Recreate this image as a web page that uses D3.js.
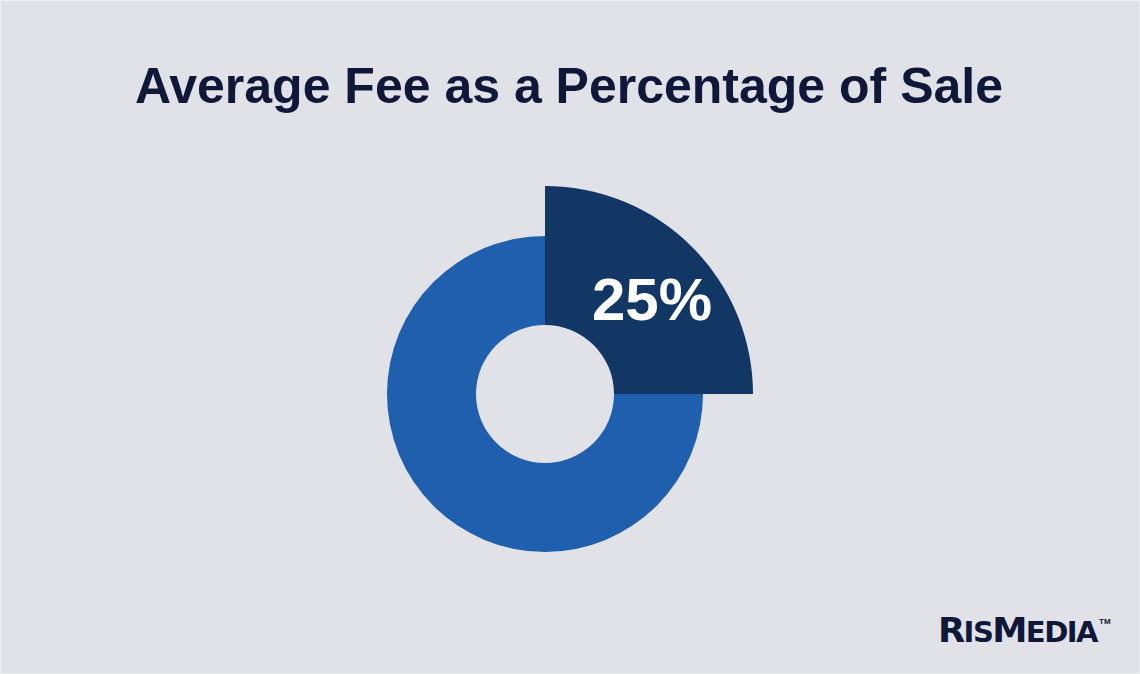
<!DOCTYPE html>
<html><head><meta charset="utf-8">
<script src="https://cdn.jsdelivr.net/npm/d3@7"></script>
<style>html,body{margin:0;padding:0;background:#e1e2e8;}svg{display:block;}</style>
</head><body>
<script>
const title = "Average Fee as a Percentage of Sale";
const categories = ["Fee", "Remainder"];
const values = [25, 75];
const labels = ["25%", ""];

const W = 1140, H = 674;
const svg = d3.select("body").append("svg").attr("width", W).attr("height", H);
svg.append("rect").attr("x",0.5).attr("y",0.5).attr("width",W-1).attr("height",H-1)
  .attr("fill","#e1e2e8").attr("stroke","#eeeff3").attr("stroke-width",1);

svg.append("text").attr("x", 569).attr("y", 103).attr("text-anchor","middle")
  .attr("font-family","Liberation Sans, Arial, sans-serif").attr("font-weight","bold")
  .attr("font-size", 50).attr("fill","#0f1838").text(title);

const cx = 545, cy = 394;
const color = d3.scaleOrdinal().domain(categories).range(["#133764", "#1f5fad"]);
const outer = d3.scaleOrdinal().domain(categories).range([208, 158]);
const pie = d3.pie().sort(null).value(d => d.v);
const arcs = pie(categories.map((c,i)=>({c, v: values[i], l: labels[i]})));
const arc = d3.arc().innerRadius(69).outerRadius(d => outer(d.data.c));
const g = svg.append("g").attr("transform", `translate(${cx},${cy})`);
g.selectAll("path").data(arcs).join("path").attr("d", arc).attr("fill", d => color(d.data.c));

g.selectAll("text").data(arcs.filter(d=>d.data.l)).join("text")
  .attr("x", 107).attr("y", -74)
  .attr("text-anchor","middle")
  .attr("font-family","Liberation Sans, Arial, sans-serif").attr("font-weight","bold")
  .attr("font-size", 60).attr("fill","#ffffff").text(d => d.data.l);

// logo
const logo = svg.append("text").attr("x", 938).attr("y", 642)
  .attr("font-family","DejaVu Sans, sans-serif").attr("font-weight","bold")
  .attr("fill","#0f1838").attr("letter-spacing", -1.5)
  .attr("textLength", 159).attr("lengthAdjust", "spacingAndGlyphs");
logo.append("tspan").attr("font-size", 34).text("R");
logo.append("tspan").attr("font-size", 28).text("IS");
logo.append("tspan").attr("font-size", 34).text("M");
logo.append("tspan").attr("font-size", 28).text("EDIA");
svg.append("text").attr("x", 1099).attr("y", 624).attr("font-family","Liberation Sans, Arial, sans-serif")
  .attr("font-weight","bold").attr("font-size",8).attr("fill","#0f1838").text("TM");
</script>
</body></html>
